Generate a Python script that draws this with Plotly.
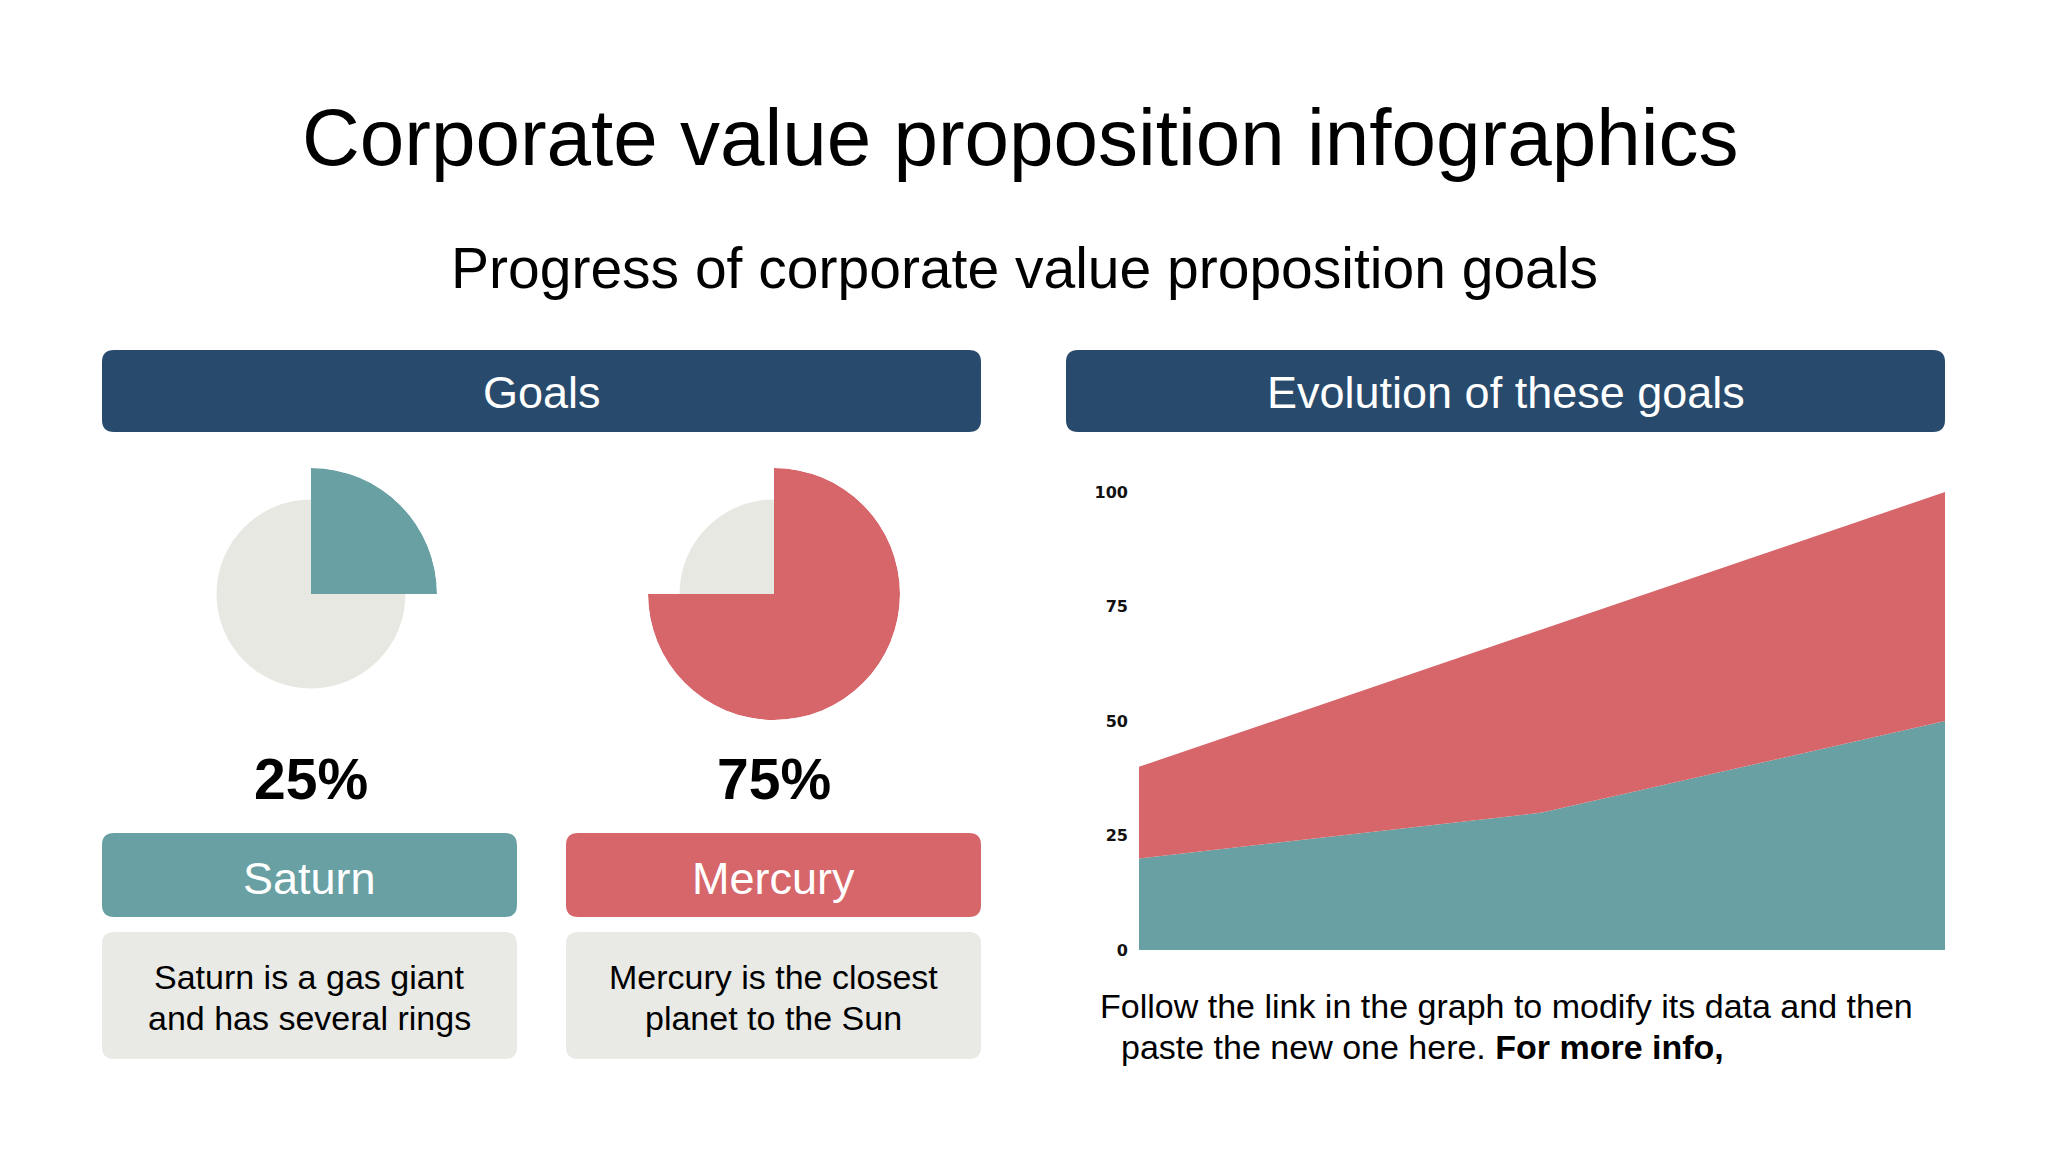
import plotly.graph_objects as go

# ---------------- data ----------------
title_text = "Corporate value proposition infographics"
subtitle_text = "Progress of corporate value proposition goals"
panel_titles = ["Goals", "Evolution of these goals"]
goal_names = ["Saturn", "Mercury"]
goal_pcts = [25, 75]
goal_desc = [["Saturn is a gas giant", "and has several rings"],
             ["Mercury is the closest", "planet to the Sun"]]
chart_x = [1, 2, 3]
saturn_series = [20, 30, 50]
mercury_series = [20, 40, 50]
y_ticks = [0, 25, 50, 75, 100]
footnote_lines = ["Follow the link in the graph to modify its data and then",
                  "paste the new one here. <b>For more info,</b>"]

# ---------------- style ----------------
W, H = 2048, 1152
FONT = "Liberation Sans, Arial, sans-serif"
TICKFONT = "DejaVu Sans, Verdana, sans-serif"
NAVY = "#284a6c"
TEAL = "#68a0a3"
RED = "#d6666a"
PIEGRAY = "#e8e8e3"
BOXGRAY = "#e9e9e5"
goal_colors = [TEAL, RED]


def px(x):
    return x / W


def py(y):
    return 1 - y / H


def rrect(x0, y0, x1, y1, r):
    pts = [
        ("M", [(x0 + r, y0)]), ("L", [(x1 - r, y0)]), ("Q", [(x1, y0), (x1, y0 + r)]),
        ("L", [(x1, y1 - r)]), ("Q", [(x1, y1), (x1 - r, y1)]),
        ("L", [(x0 + r, y1)]), ("Q", [(x0, y1), (x0, y1 - r)]),
        ("L", [(x0, y0 + r)]), ("Q", [(x0, y0), (x0 + r, y0)]),
    ]
    s = ""
    for cmd, ps in pts:
        s += cmd + " " + " ".join(f"{px(a):.5f},{py(b):.5f}" for a, b in ps) + " "
    return s + "Z"


fig = go.Figure()
shapes = []
annotations = []

# header boxes
header_boxes = [(102, 350, 981, 432), (1066, 350, 1945, 432)]
for (x0, y0, x1, y1), t in zip(header_boxes, panel_titles):
    shapes.append(dict(type="path", xref="paper", yref="paper", path=rrect(x0, y0, x1, y1, 12),
                       fillcolor=NAVY, line=dict(width=0), layer="below"))
    annotations.append(dict(x=px((x0 + x1) / 2), y=py((y0 + y1) / 2 + 2), xref="paper", yref="paper",
                            text=t, showarrow=False, xanchor="center", yanchor="middle",
                            font=dict(family=FONT, size=45, color="white")))

# goal columns
col_centers = [311, 774]
name_boxes = [(102, 833, 517, 917), (566, 833, 981, 917)]
desc_boxes = [(102, 932, 517, 1059), (566, 932, 981, 1059)]
for i in range(2):
    cx = col_centers[i]
    # pie (variable radius)
    prog = goal_pcts[i] * 3.6
    rest = 360 - prog
    pid = "polar" if i == 0 else "polar2"
    fig.add_trace(go.Barpolar(
        r=[1.0, 0.75], theta=[prog / 2, prog + rest / 2], width=[prog, rest],
        marker=dict(color=[goal_colors[i], PIEGRAY], line=dict(width=0)),
        subplot=pid, showlegend=False, hoverinfo="skip"))
    R = 126
    fig.layout[pid] = dict(
        domain=dict(x=[px(cx - R), px(cx + R)], y=[py(594 + R), py(594 - R)]),
        bgcolor="rgba(0,0,0,0)", bargap=0, hole=0,
        radialaxis=dict(range=[0, 1], visible=False, showgrid=False, showline=False, showticklabels=False),
        angularaxis=dict(rotation=90, direction="clockwise", visible=False, showgrid=False,
                         showline=False, showticklabels=False, ticks=""))
    annotations.append(dict(x=px(cx), y=py(779), xref="paper", yref="paper",
                            text=f"<b>{goal_pcts[i]}%</b>", showarrow=False,
                            xanchor="center", yanchor="middle",
                            font=dict(family=FONT, size=57, color="black")))
    x0, y0, x1, y1 = name_boxes[i]
    shapes.append(dict(type="path", xref="paper", yref="paper", path=rrect(x0, y0, x1, y1, 12),
                       fillcolor=goal_colors[i], line=dict(width=0), layer="below"))
    annotations.append(dict(x=px((x0 + x1) / 2), y=py((y0 + y1) / 2 + 3), xref="paper", yref="paper",
                            text=goal_names[i], showarrow=False, xanchor="center", yanchor="middle",
                            font=dict(family=FONT, size=45, color="white")))
    x0, y0, x1, y1 = desc_boxes[i]
    shapes.append(dict(type="path", xref="paper", yref="paper", path=rrect(x0, y0, x1, y1, 12),
                       fillcolor=BOXGRAY, line=dict(width=0), layer="below"))
    for j, line in enumerate(goal_desc[i]):
        annotations.append(dict(x=px((x0 + x1) / 2), y=py(977 + 41 * j), xref="paper", yref="paper",
                                text=line, showarrow=False, xanchor="center", yanchor="middle",
                                font=dict(family=FONT, size=34, color="black")))

# area chart
fig.add_trace(go.Scatter(x=chart_x, y=saturn_series, stackgroup="one", mode="lines",
                         line=dict(width=0, color=TEAL), fillcolor=TEAL,
                         showlegend=False, hoverinfo="skip"))
fig.add_trace(go.Scatter(x=chart_x, y=mercury_series, stackgroup="one", mode="lines",
                         line=dict(width=0, color=RED), fillcolor=RED,
                         showlegend=False, hoverinfo="skip"))

fig.update_xaxes(domain=[px(1139), px(1945)], range=[chart_x[0], chart_x[-1]], visible=False,
                 showgrid=False, zeroline=False, automargin=False)
fig.update_yaxes(domain=[py(950), py(492)], range=[0, 100], tickvals=y_ticks,
                 showgrid=False, zeroline=False, showline=False, ticks="",
                 ticklabelstandoff=10, automargin=False,
                 tickfont=dict(family=TICKFONT, size=16, color="#111111", weight="bold"))

# titles
annotations.append(dict(x=0.5 - 0.002, y=py(137), xref="paper", yref="paper", text=title_text,
                        showarrow=False, xanchor="center", yanchor="middle",
                        font=dict(family=FONT, size=80, color="black")))
annotations.append(dict(x=0.5, y=py(268), xref="paper", yref="paper", text=subtitle_text,
                        showarrow=False, xanchor="center", yanchor="middle",
                        font=dict(family=FONT, size=57, color="black")))
# footnote
annotations.append(dict(x=px(1098), y=py(1006), xref="paper", yref="paper", text=footnote_lines[0],
                        showarrow=False, xanchor="left", yanchor="middle",
                        font=dict(family=FONT, size=34, color="black")))
annotations.append(dict(x=px(1119), y=py(1047), xref="paper", yref="paper", text=footnote_lines[1],
                        showarrow=False, xanchor="left", yanchor="middle",
                        font=dict(family=FONT, size=34, color="black")))

fig.update_layout(width=W, height=H, autosize=False, margin=dict(l=0, r=0, t=0, b=0, pad=0),
                  paper_bgcolor="white", plot_bgcolor="white",
                  shapes=shapes, annotations=annotations, showlegend=False,
                  font=dict(family=FONT))

fig.write_html("out.html", config={"displayModeBar": False},
               post_script="document.body.style.margin='0px';")
